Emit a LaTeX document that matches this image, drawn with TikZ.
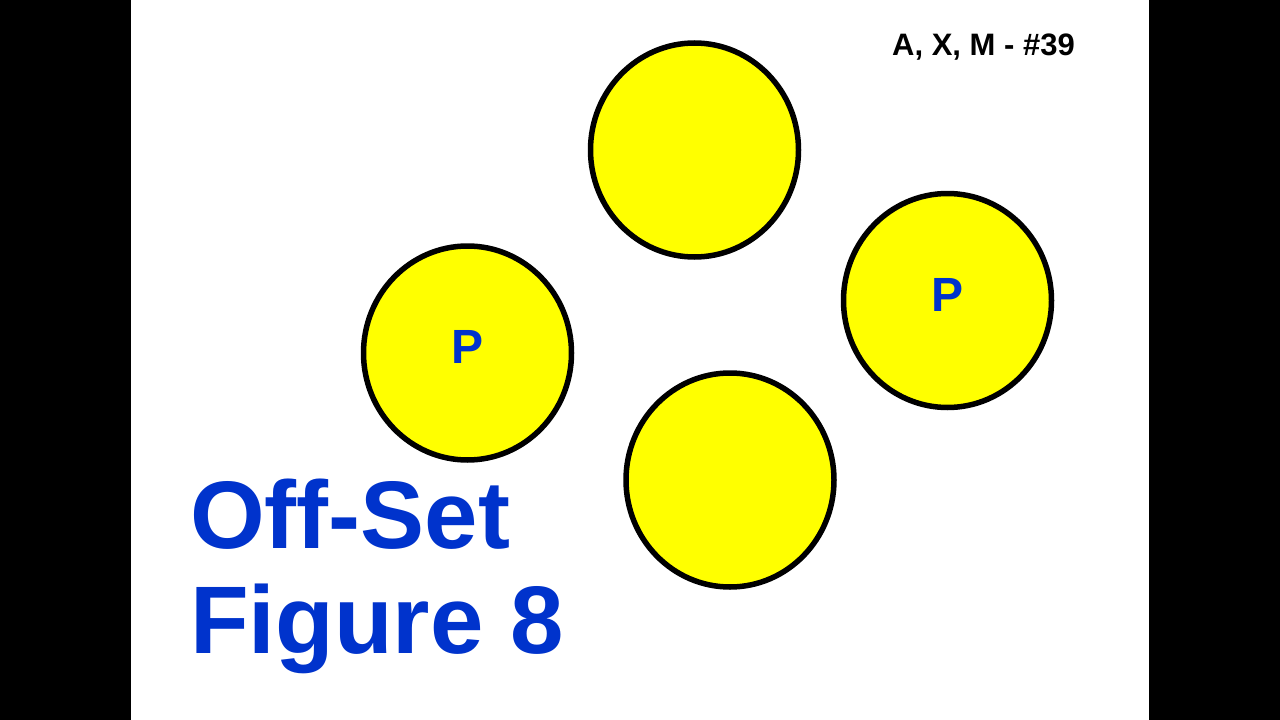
\documentclass[tikz,border=0pt]{standalone}
\usepackage{fontspec}
\setmainfont{Liberation Sans}
\usetikzlibrary{shapes.geometric}
\definecolor{titleblue}{RGB}{0,51,204}
\definecolor{discyellow}{RGB}{255,255,0}
\tikzset{disc/.style={
          ellipse, draw=black, line width=5.5pt, fill=discyellow,
          minimum width=208pt, minimum height=214pt, inner sep=0pt
          },
        plabel/.style={
          font=\bfseries\fontsize{48}{48}\selectfont, text=titleblue, inner sep=0pt
          },
        title/.style={
          font=\bfseries\fontsize{96}{96}\selectfont, text=titleblue, inner sep=0pt, anchor=base west
          },
        tag/.style={
          font=\bfseries\fontsize{31}{31}\selectfont, inner sep=0pt, anchor=base east
          },
}
\begin{document}
\begin{tikzpicture}[x=1pt, y=-1pt]
      % FRAME
      \useasboundingbox (0,0) rectangle (1280,720);
      \fill[black] (0,0) rectangle (1280,720);
      \fill[white] (131,0) rectangle (1149,720);

      % DISCS
      \node[disc] (top) at (694.5,150) {};
      \node[disc] (left) at (467.5,353) {};
      \node[disc] (right) at (947.5,300.5) {};
      \node[disc] (bottom) at (730,480) {};
      \node[plabel] (leftp) at ([yshift=6pt]left.center) {P};
      \node[plabel] (rightp) at ([yshift=6pt]right.center) {P};

      % TEXTS
      \node[tag] (tag) at (1075,55) {A, X, M - \#39};
      \node[title] (offset) at (190,548) {Off-Set};
      \node[title] (figure) at ([yshift=-105pt]offset.base west) {Figure 8};
\end{tikzpicture}
\end{document}
